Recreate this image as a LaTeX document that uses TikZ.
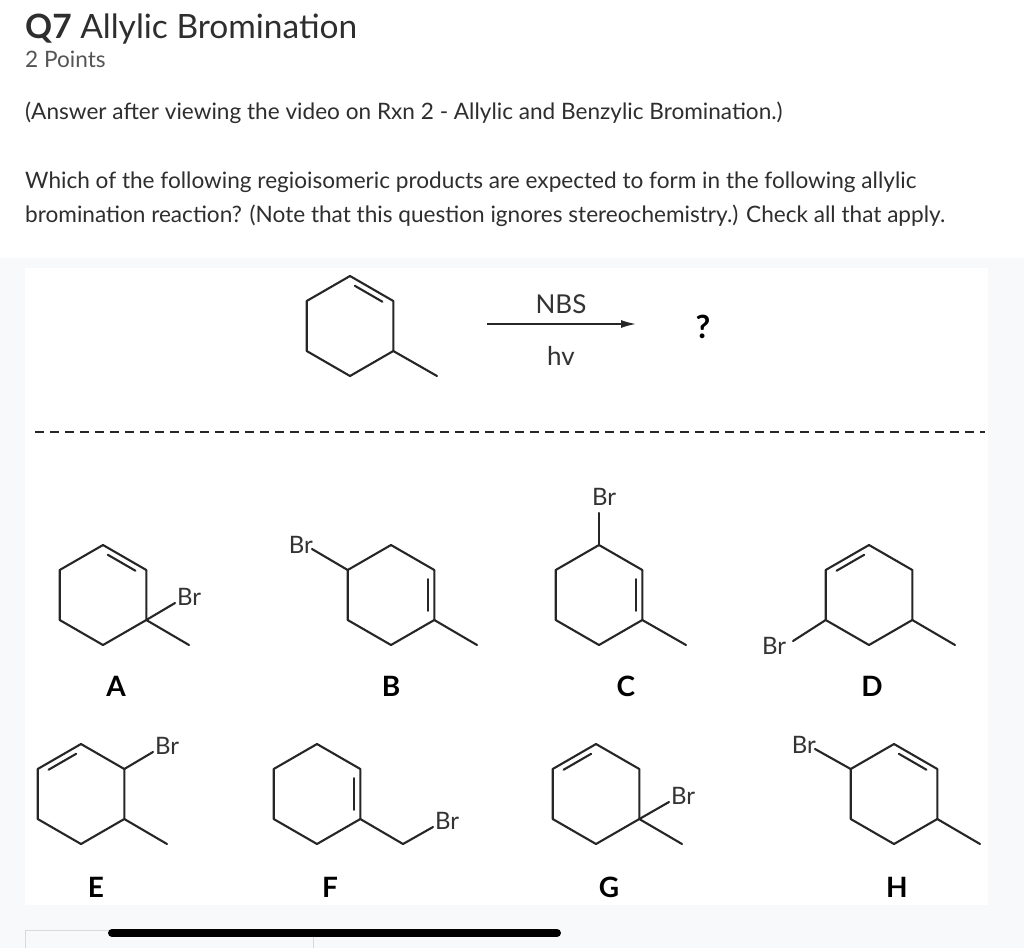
\documentclass[tikz,border=0pt]{standalone}
\usepackage{fontspec}
\setmainfont{Lato}
\usetikzlibrary{calc,arrows.meta}
\definecolor{pagebg}{HTML}{F8F9FB}
\definecolor{txt}{HTML}{2E2E2E}
\definecolor{subtxt}{HTML}{555555}
\tikzset{
  bond/.style={line width=2.1pt, line cap=round, line join=round, black!85},
  atom/.style={font=\fontsize{24}{24}\selectfont, inner sep=0pt, text=black!80},
  lbl/.style={font=\fontsize{28}{28}\selectfont\bfseries, inner sep=0pt},
  body/.style={font=\fontsize{22.6}{33}\selectfont, text=txt, anchor=base west, inner sep=0pt, align=left}
}
\newcommand\hexring[3]{%
  \coordinate (#3c) at (#1,#2);
  \coordinate (#3t) at (#1,#2-50);
  \coordinate (#3ur) at (#1+43.3,#2-25);
  \coordinate (#3lr) at (#1+43.3,#2+25);
  \coordinate (#3b) at (#1,#2+50);
  \coordinate (#3ll) at (#1-43.3,#2+25);
  \coordinate (#3ul) at (#1-43.3,#2-25);
  \draw[bond] (#3t)--(#3ur)--(#3lr)--(#3b)--(#3ll)--(#3ul)--cycle;}
\newcommand\dbl[3]{%
  \draw[bond] ($($(#1c)!0.86!(#2)$)!0.13!($(#1c)!0.86!(#3)$)$) -- ($($(#1c)!0.86!(#3)$)!0.13!($(#1c)!0.86!(#2)$)$);}
\begin{document}
\begin{tikzpicture}[x=1pt,y=-1pt]
\fill[pagebg] (0,0) rectangle (1024,948);
\useasboundingbox (0,0) rectangle (1024,948);
\fill[white] (0,0) rectangle (1024,258);
\fill[white] (25,268) rectangle (988,905);
% header
\node[body, font=\fontsize{33.5}{33}\selectfont] (title) at (25,38) {\textbf{Q7} Allylic Bromination};
\node[body, text=subtxt] (pts) at (25,67) {2 Points};
\node[body] (t1) at (25,119) {(Answer after viewing the video on Rxn 2 - Allylic and Benzylic Bromination.)};
\node[body] (t2) at (25,188) {Which of the following regioisomeric products are expected to form in the following allylic};
\node[body] (t3) at (25,222) {bromination reaction? (Note that this question ignores stereochemistry.) Check all that apply.};
% reaction
\hexring{350}{326}{s}
\dbl{s}{st}{sur}
\coordinate (sm) at (437,376); \draw[bond] (slr)--(sm);
\coordinate (a1) at (487,324); \coordinate (a2) at (636,324);
\draw[line width=1.6pt, black!85, -{Latex[length=15pt,width=8pt]}] (a1)--(a2);
\node[atom, font=\fontsize{26}{26}\selectfont] (nbs) at (561,304) {NBS};
\node[atom, font=\fontsize{26}{26}\selectfont] (hv) at (561,356) {hv};
\node[lbl, font=\fontsize{32}{32}\selectfont\bfseries] (q) at (703,327) {?};
\draw[dashed, line width=1.3pt, black!85, dash pattern=on 9pt off 6pt] (35,432)--(985,432);
% A
\hexring{103}{595}{A} \dbl{A}{At}{Aur}
\coordinate (Ab) at (175,603); \draw[bond] (Alr)--(Ab);
\coordinate (Am) at (189,645); \draw[bond] (Alr)--(Am);
\node[atom, anchor=west] (ABr) at (177,597) {Br};
\node[lbl] (la) at (116,686) {A};
% B
\hexring{391}{595}{B} \dbl{B}{Bur}{Blr}
\coordinate (Bm) at (477,645); \draw[bond] (Blr)--(Bm);
\coordinate (Bb) at (312,549); \draw[bond] (Bul)--(Bb);
\node[atom, anchor=east] (BBr) at (313,545) {Br};
\node[lbl] (lb) at (391,686) {B};
% C
\hexring{599}{595}{C} \dbl{C}{Cur}{Clr}
\coordinate (Cm) at (686,645); \draw[bond] (Clr)--(Cm);
\coordinate (Cb) at (599,513); \draw[bond] (Ct)--(Cb);
\node[atom] (CBr) at (604,497) {Br};
\node[lbl] (lc) at (626,686) {C};
% D
\hexring{869}{595}{D} \dbl{D}{Dul}{Dt}
\coordinate (Dm) at (955,645); \draw[bond] (Dlr)--(Dm);
\coordinate (Db) at (793,641); \draw[bond] (Dll)--(Db);
\node[atom] (DBr) at (774,646) {Br};
\node[lbl] (ld) at (872,686) {D};
% E
\hexring{81}{794}{E} \dbl{E}{Eul}{Et}
\coordinate (Eb) at (153,752); \draw[bond] (Eur)--(Eb);
\node[atom, anchor=west] (EBr) at (155,746) {Br};
\coordinate (Em) at (167,844); \draw[bond] (Elr)--(Em);
\node[lbl] (le) at (96,887) {E};
% F
\hexring{317}{794}{F} \dbl{F}{Fur}{Flr}
\coordinate (Fch) at (403,844); \coordinate (Fb) at (433,827);
\draw[bond] (Flr)--(Fch)--(Fb);
\node[atom, anchor=west] (FBr) at (435,821) {Br};
\node[lbl] (lf) at (330,887) {F};
% G
\hexring{596}{794}{G} \dbl{G}{Gul}{Gt}
\coordinate (Gb) at (669,802); \draw[bond] (Glr)--(Gb);
\node[atom, anchor=west] (GBr) at (671,796) {Br};
\coordinate (Gm) at (682,844); \draw[bond] (Glr)--(Gm);
\node[lbl] (lg) at (609,887) {G};
% H
\hexring{894}{794}{H} \dbl{H}{Ht}{Hur}
\coordinate (Hb) at (815,749); \draw[bond] (Hul)--(Hb);
\node[atom, anchor=east] (HBr) at (816,745) {Br};
\coordinate (Hm) at (980,844); \draw[bond] (Hlr)--(Hm);
\node[lbl] (lh) at (897,887) {H};
% footer
\draw[black!15, line width=0.8pt] (25,948)--(25,930)--(313,930)--(313,948);
\draw[black, line width=8pt, line cap=round] (112,933)--(557,933);
\end{tikzpicture}
\end{document}
